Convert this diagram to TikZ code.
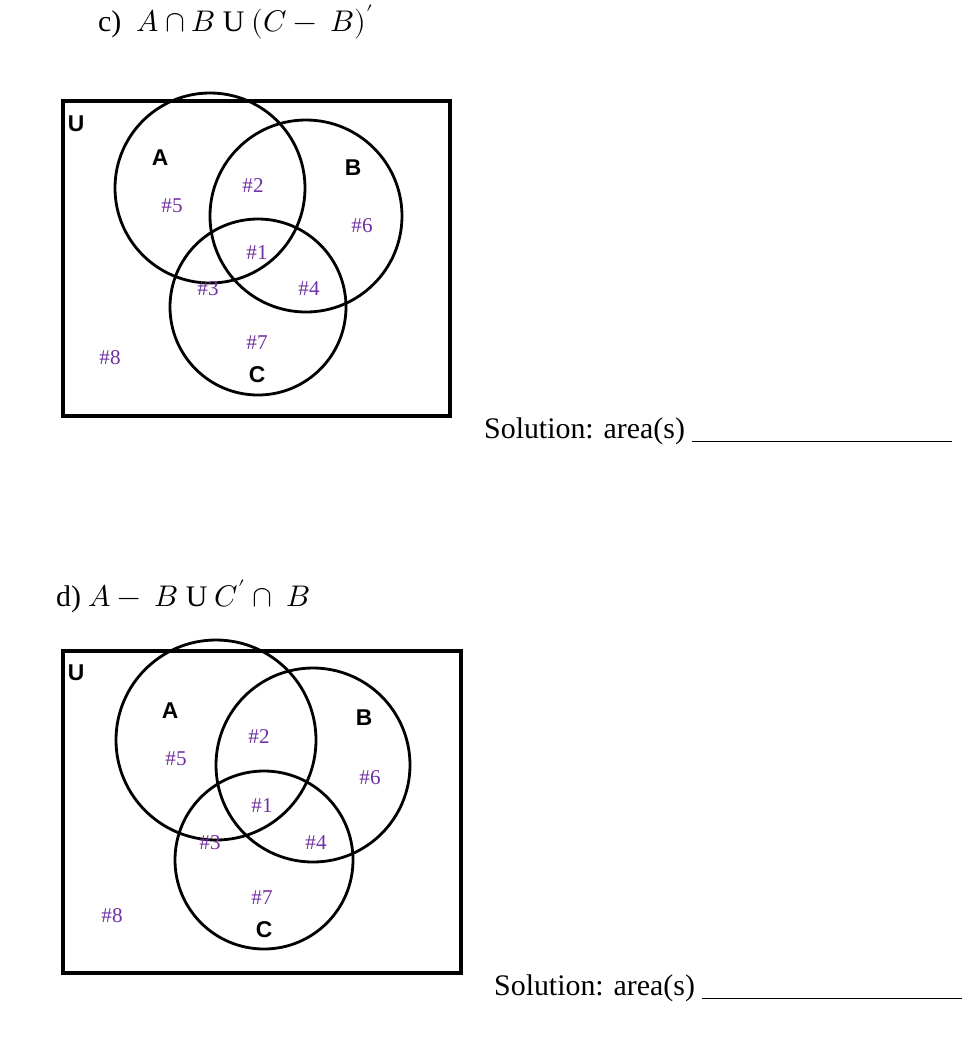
\documentclass[tikz,border=0pt]{standalone}
\usepackage{fontspec}
\setmainfont{Liberation Serif}
\newfontfamily\lsans{Liberation Sans}
\usepackage{unicode-math}
\definecolor{pur}{HTML}{7030A0}
\tikzset{circ/.style={draw,line width=1.6pt},
 box/.style={draw,line width=1.8pt},
 num/.style={text=pur,font=\fontsize{12}{14}\selectfont},
 let/.style={font=\lsans\bfseries\fontsize{13}{15}\selectfont},
 ttl/.style={font=\fontsize{17}{20}\selectfont,anchor=west},
 sol/.style={font=\fontsize{17}{20}\selectfont,anchor=west}}
\begin{document}
\begin{tikzpicture}[x=0.02cm,y=-0.02cm]
\useasboundingbox (0,0) rectangle (962,1046);
\node[ttl] (t1) at (92,22) {c)\ \ $A\cap B$ U $(C-\ B)'$};
\node[ttl] (t2) at (50,596) {d) $A-\ B$ U $C'\cap\ B$};
% diagram 1
\draw[box] (63,101) rectangle (450,416);
\draw[circ] (210,188) circle (95);
\draw[circ] (306,216) circle (96);
\draw[circ] (258,307) circle (88);
\node[let] (u1) at (76,124) {U};
\node[let] (a1) at (160,158) {A};
\node[let] (b1) at (353,168) {B};
\node[let] (c1) at (257,375) {C};
\node[num] (n21) at (253,186) {\#2};
\node[num] (n51) at (172,206) {\#5};
\node[num] (n61) at (362,226) {\#6};
\node[num] (n11) at (257,253) {\#1};
\node[num] (n31) at (208,289) {\#3};
\node[num] (n41) at (309,289) {\#4};
\node[num] (n71) at (257,343) {\#7};
\node[num] (n81) at (110,358) {\#8};
\node[sol] (s1) at (478,431) {Solution: area(s) \rule[-2pt]{5.2cm}{0.5pt}};
% diagram 2
\draw[box] (63,651) rectangle (461,973);
\draw[circ] (216,740) circle (100);
\draw[circ] (313,765) circle (97);
\draw[circ] (264,860) circle (89);
\node[let] (u2) at (76,673) {U};
\node[let] (a2) at (170,711) {A};
\node[let] (b2) at (364,718) {B};
\node[let] (c2) at (264,930) {C};
\node[num] (n22) at (259,737) {\#2};
\node[num] (n52) at (176,759) {\#5};
\node[num] (n62) at (370,778) {\#6};
\node[num] (n12) at (262,806) {\#1};
\node[num] (n32) at (210,843) {\#3};
\node[num] (n42) at (316,843) {\#4};
\node[num] (n72) at (262,898) {\#7};
\node[num] (n82) at (112,916) {\#8};
\node[sol] (s2) at (488,988) {Solution: area(s) \rule[-2pt]{5.2cm}{0.5pt}};
\end{tikzpicture}
\end{document}
